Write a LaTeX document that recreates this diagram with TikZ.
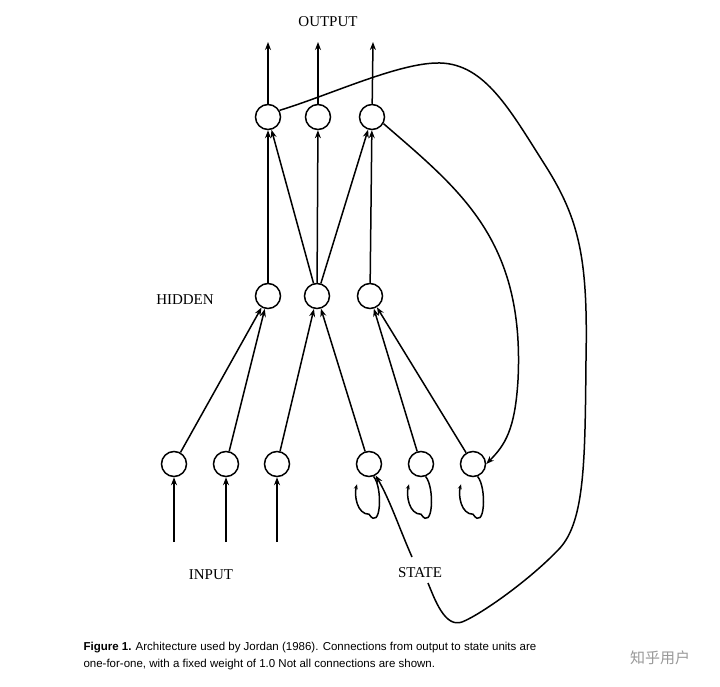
\documentclass[tikz,border=0pt]{standalone}
\usepackage{fontspec}
\setmainfont{Liberation Serif}
\newfontfamily\capfont{Liberation Sans}
\newfontfamily\cjk{Noto Sans CJK SC}
\usetikzlibrary{arrows.meta}
\begin{document}
\begin{tikzpicture}[x=1pt,y=-1pt,
  unit/.style={circle,draw,line width=1.5pt,minimum size=25pt,inner sep=0pt},
  conn/.style={line width=1.5pt,-{Stealth[length=8pt,width=6pt]}},
  lab/.style={font=\fontsize{15}{17}\selectfont}]
\useasboundingbox (0,0) rectangle (720,687);
\fill[white] (0,0) rectangle (720,687);
\node[unit] (o1) at (268,117) {};
\node[unit] (o2) at (318,117) {};
\node[unit] (o3) at (372,117) {};
\node[unit] (h1) at (268,296) {};
\node[unit] (h2) at (317,296) {};
\node[unit] (h3) at (370,296) {};
\node[unit] (i1) at (174,464) {};
\node[unit] (i2) at (226,464) {};
\node[unit] (i3) at (277,464) {};
\node[unit] (s1) at (369,464) {};
\node[unit] (s2) at (421,464) {};
\node[unit] (s3) at (473,464) {};
\node[lab] (lo) at (328,22) {OUTPUT};
\node[lab] (lh) at (185,300) {HIDDEN};
\node[lab] (li) at (211,575) {INPUT};
\node[lab] (ls) at (420,573) {STATE};
\coordinate (t1) at (268,42); \coordinate (t2) at (318,42); \coordinate (t3) at (373,42);
\coordinate (b1) at (174,542); \coordinate (b2) at (226,542); \coordinate (b3) at (277,542);
\foreach \a/\b in {o1/t1,o2/t2,o3/t3,i1/h1,i2/h1,i3/h2,s1/h2,s2/h3,s3/h3,h1/o1,h2/o1,h2/o2,h2/o3,h3/o3,b1/i1,b2/i2,b3/i3}
  \draw[conn] (\a) -- (\b);
\draw[conn] (o3.-30) .. controls (460,190) and (525,240) .. (518,380)
  .. controls (515,430) and (505,445) .. (s3.east);
\coordinate (c0) at (428,583);
\draw[line width=1.5pt] (o1.30) .. controls (330,95) and (400,62) .. (440,63)
  .. controls (485,64) and (510,110) .. (545,165)
  .. controls (580,220) and (588,260) .. (586,360)
  .. controls (585,460) and (585,520) .. (560,548)
  .. controls (530,580) and (480,615) .. (462,622)
  .. controls (445,628) and (435,600) .. (c0);
\coordinate (c1) at (412,557);
\draw[conn] (c1) .. controls (400,530) and (390,500) .. (s1.-60);
\foreach \s in {s1,s2,s3}{
  \draw[line width=1.5pt,-{Stealth[length=5pt,width=4pt]}] (\s.-70) .. controls ([shift={(14,10)}]\s.south) and ([shift={(12,55)}]\s.south) .. ([shift={(0,37)}]\s.south)
   .. controls ([shift={(-12,37)}]\s.south) and ([shift={(-15,18)}]\s.south) .. ([shift={(-12,7)}]\s.south);
}
\node[anchor=west,font=\capfont\fontsize{11.5}{17}\selectfont,align=left] (cap) at (80,656)
 {\textbf{Figure 1.} Architecture used by Jordan (1986). Connections from output to state units are\\one-for-one, with a fixed weight of 1.0 Not all connections are shown.};
\node[font=\cjk\fontsize{15}{17}\selectfont,text=gray!80] (wm) at (660,658) {知乎用户};
\end{tikzpicture}
\end{document}
